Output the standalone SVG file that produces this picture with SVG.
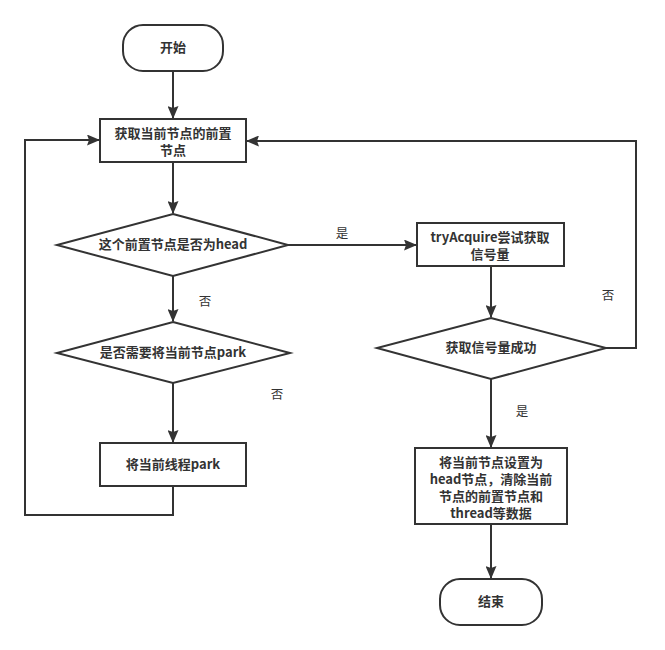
<svg xmlns="http://www.w3.org/2000/svg" width="665" height="650" viewBox="0 0 665 650">
<style>
.shape{fill:#fff;stroke:#333;stroke-width:2}
.edge{fill:none;stroke:#333;stroke-width:2}
.t{font-family:"Noto Sans CJK SC","Liberation Sans",sans-serif;font-size:13px;font-weight:bold;fill:#333;text-anchor:middle}
.lbl{font-family:"Noto Sans CJK SC","Liberation Sans",sans-serif;font-size:12.5px;fill:#333;text-anchor:middle}
</style>
<defs>
<marker id="arr" markerUnits="userSpaceOnUse" viewBox="0 0 13 11" markerWidth="13" markerHeight="11" refX="12" refY="5.5" orient="auto">
<path d="M0,0 L13,5.5 L0,11 L2,5.5 z" fill="#333"/>
</marker>
</defs>
<rect width="665" height="650" fill="#fff"/>
<g id="connectors">
<path class="edge" d="M173,71 V118" marker-end="url(#arr)"/>
<path class="edge" d="M173,162 V213" marker-end="url(#arr)"/>
<path class="edge" d="M173,276 V321" marker-end="url(#arr)"/>
<path class="edge" d="M173,383 V442" marker-end="url(#arr)"/>
<path class="edge" d="M173,486 V515 H25 V140 H99" marker-end="url(#arr)"/>
<path class="edge" d="M288,245 H416" marker-end="url(#arr)"/>
<path class="edge" d="M491,266 V317" marker-end="url(#arr)"/>
<path class="edge" d="M606,348 H636 V141 H247" marker-end="url(#arr)"/>
<path class="edge" d="M491,379 V447" marker-end="url(#arr)"/>
<path class="edge" d="M491,524 V578" marker-end="url(#arr)"/>
<text class="lbl" x="342" y="238">是</text>
<text class="lbl" x="205" y="306">否</text>
<text class="lbl" x="277" y="399">否</text>
<text class="lbl" x="608" y="300">否</text>
<text class="lbl" x="522" y="416">是</text>
</g>
<g id="start">
<rect class="shape" x="123" y="25" width="100" height="46" rx="20" ry="20"/>
<text class="t" x="173" y="52">开始</text>
</g>
<g id="getPrev">
<rect class="shape" x="100" y="119" width="146" height="43"/>
<text class="t" x="173" y="138">获取当前节点的前置</text>
<text class="t" x="173" y="155">节点</text>
</g>
<g id="isHead">
<polygon class="shape" points="173,214 288,245 173,276 57,245"/>
<text class="t" x="173" y="249">这个前置节点是否为head</text>
</g>
<g id="needPark">
<polygon class="shape" points="173,322 290,353 173,383 57,353"/>
<text class="t" x="173" y="357">是否需要将当前节点park</text>
</g>
<g id="park">
<rect class="shape" x="100" y="443" width="146" height="43"/>
<text class="t" x="173" y="469">将当前线程park</text>
</g>
<g id="tryAcquire">
<rect class="shape" x="417" y="223" width="147" height="43"/>
<text class="t" x="490" y="242">tryAcquire尝试获取</text>
<text class="t" x="490" y="259">信号量</text>
</g>
<g id="success">
<polygon class="shape" points="491,318 606,348 491,379 377,348"/>
<text class="t" x="491" y="352">获取信号量成功</text>
</g>
<g id="setHead">
<rect class="shape" x="415" y="448" width="152" height="76"/>
<text class="t" x="491" y="467">将当前节点设置为</text>
<text class="t" x="491" y="484">head节点，清除当前</text>
<text class="t" x="491" y="501">节点的前置节点和</text>
<text class="t" x="491" y="518">thread等数据</text>
</g>
<g id="end">
<rect class="shape" x="440" y="579" width="102" height="46" rx="20" ry="20"/>
<text class="t" x="491" y="606">结束</text>
</g>
</svg>
